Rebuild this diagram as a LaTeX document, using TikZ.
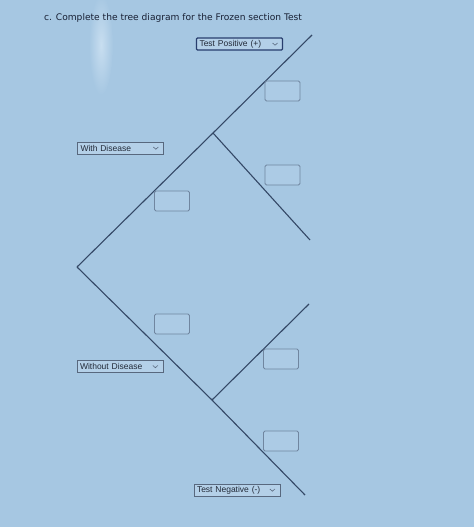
\documentclass[tikz,border=0pt]{standalone}
\usepackage{fontspec}
\setmainfont{Liberation Sans}
\newfontfamily\titlefont{DejaVu Sans}
\begin{document}
\begin{tikzpicture}[x=1pt,y=-1pt,
  branch/.style={draw={rgb,255:red,52;green,72;blue,102}, line width=1.1pt},
  ansbox/.style={draw={rgb,255:red,112;green,134;blue,160}, line width=0.8pt, rounded corners=1.5pt,
    fill={rgb,255:red,172;green,203;blue,229}, minimum width=35pt, minimum height=20pt, inner sep=0pt},
  ddbox/.style={draw={rgb,255:red,88;green,104;blue,126}, line width=0.7pt,
    fill={rgb,255:red,180;green,208;blue,232}, minimum width=86pt, minimum height=12pt,
    text width=80pt, align=left, inner xsep=2.5pt, inner ysep=0pt,
    font=\fontsize{8.5}{9}\selectfont, text={rgb,255:red,34;green,42;blue,56}},
  ddfocus/.style={ddbox, draw={rgb,255:red,40;green,62;blue,110}, line width=1.1pt, rounded corners=1pt},
  chev/.style={draw={rgb,255:red,90;green,106;blue,128}, line width=0.6pt}
]
\definecolor{bgc}{RGB}{166,199,226}
\definecolor{glare}{RGB}{200,222,240}
\fill[bgc] (0,0) rectangle (474,527);
\useasboundingbox (0,0) rectangle (474,527);
% soft glare
\shade[inner color=glare, outer color=bgc] (101,45) ellipse (12pt and 50pt);

\node[anchor=base west, inner sep=0pt, font=\titlefont\fontsize{9.1}{10}\selectfont, text={rgb,255:red,24;green,32;blue,52}] (title) at (44,21) {c. Complete the tree diagram for the Frozen section Test};

% tree points
\coordinate (root) at (77,267);
\coordinate (up) at (213,133);
\coordinate (lo) at (212,400);
\coordinate (upup) at (312,35);
\coordinate (updn) at (310,240);
\coordinate (loup) at (309,304);
\coordinate (lodn) at (305,495);

\draw[branch] (root) -- (up);
\draw[branch] (up) -- (upup);
\draw[branch] (up) -- (updn);
\draw[branch] (root) -- (lo);
\draw[branch] (lo) -- (loup);
\draw[branch] (lo) -- (lodn);

% answer boxes
\node[ansbox] (a1) at (282.5,91) {};
\node[ansbox] (a2) at (282.5,175) {};
\node[ansbox] (a3) at (172,201) {};
\node[ansbox] (a4) at (172,324) {};
\node[ansbox] (a5) at (281,359) {};
\node[ansbox] (a6) at (281,441) {};

% dropdowns
\node[ddfocus] (tp) at (239.5,44) {Test Positive (+)};
\node[ddbox] (wd) at (120.5,148) {With Disease};
\node[ddbox] (wo) at (120,366.5) {Without Disease};
\node[ddbox] (tn) at (237,490) {Test Negative (-)};

\foreach \n in {tp,wd,wo,tn}{
  \draw[chev] ([shift={(-10.5,-1)}]\n.east) -- ([shift={(-8,1.2)}]\n.east) -- ([shift={(-5.5,-1)}]\n.east);
}
\end{tikzpicture}
\end{document}
